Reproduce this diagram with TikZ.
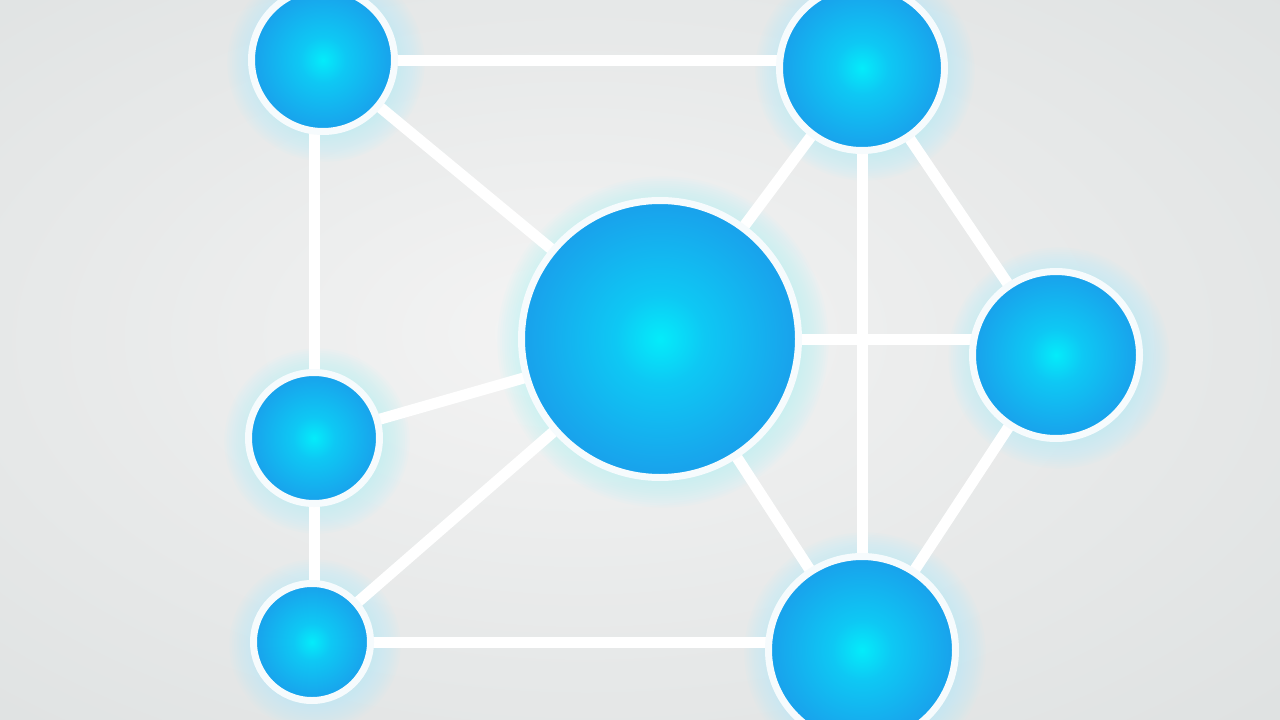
\documentclass[tikz,border=0pt]{standalone}
\usetikzlibrary{calc}
\definecolor{bcenter}{RGB}{4,236,250}
\definecolor{binner}{RGB}{14,200,244}
\definecolor{bmid}{RGB}{26,158,235}
\definecolor{bedge}{RGB}{30,134,229}
\definecolor{bgc}{RGB}{244,244,244}
\definecolor{bge}{RGB}{216,220,220}
\definecolor{glowc}{RGB}{190,242,252}
\definecolor{ringc}{RGB}{246,251,253}
\pgfdeclareradialshading{ballshade}{\pgfpoint{0bp}{0bp}}{color(0bp)=(bcenter); color(8bp)=(binner); color(26bp)=(bmid); color(50bp)=(bedge)}
\pgfdeclareradialshading{bgshade}{\pgfpoint{-3bp}{2bp}}{color(0bp)=(bgc); color(18bp)=(bgc!60!bge); color(50bp)=(bge); color(80bp)=(bge)}
\pgfdeclarelayer{bgl}
\pgfdeclarelayer{glow}
\pgfdeclarelayer{lines}
\pgfsetlayers{bgl,glow,lines,main}
\begin{document}
\begin{tikzpicture}[x=1pt,y=-1pt,
  ball/.style={circle, inner sep=0pt, outer sep=0pt, minimum size={2*#1pt+7pt},
    shading=ballshade, draw=ringc, line width=7pt},
  link/.style={draw=white, line width=11pt}]
\useasboundingbox (0,0) rectangle (1280,720);
\begin{pgfonlayer}{bgl}
  \fill[shading=bgshade] (0,0) rectangle (1280,720);
\end{pgfonlayer}
\node[ball=68] (A) at (323,60) {};
\node[ball=79] (B) at (862,68) {};
\node[ball=135] (C) at (660,339) {};
\node[ball=80] (D) at (1056,355) {};
\node[ball=62] (E) at (314,438) {};
\node[ball=55] (F) at (312,642) {};
\node[ball=90] (G) at (862,650) {};
\begin{pgfonlayer}{glow}
  \foreach \n/\r in {A/68,B/79,C/135,D/80,E/62,F/55,G/90}{
    \foreach \k in {1,...,12}{
      \fill[glowc, opacity=0.08] ($(\n.center)+(3,3)$) circle[radius={(\r+3+2.3*\k)*1pt}];
    }
  }
\end{pgfonlayer}
\begin{pgfonlayer}{lines}
  \draw[link] (A) -- (A -| B);
  \draw[link] (E |- A) -- (E);
  \draw[link] (E) -- (E |- F);
  \draw[link] (F) -- (F -| G);
  \draw[link] (B) -- (G);
  \draw[link] (C) -- (C -| D);
  \draw[link] (A) -- (C);
  \draw[link] (B) -- (C);
  \draw[link] (B) -- (D);
  \draw[link] (C) -- (E);
  \draw[link] (C) -- (F);
  \draw[link] (C) -- (G);
  \draw[link] (D) -- (G);
\end{pgfonlayer}
\end{tikzpicture}
\end{document}
